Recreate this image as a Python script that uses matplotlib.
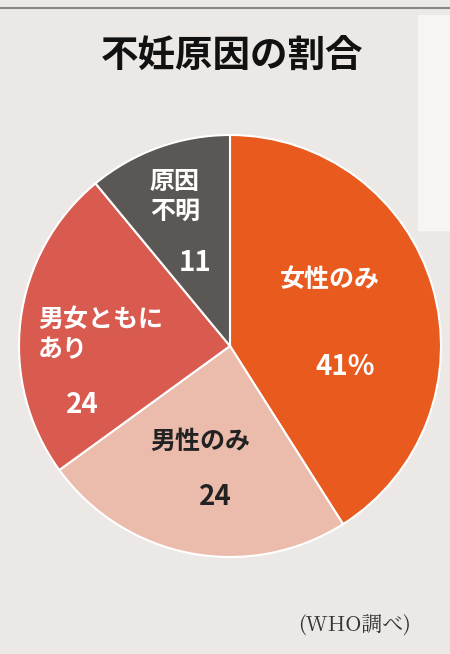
import matplotlib.pyplot as plt
from matplotlib.patches import Rectangle
plt.rcParams['font.family'] = ['Noto Sans CJK JP', 'DejaVu Sans']

labels = ['女性のみ', '男性のみ', '男女ともにあり', '原因不明']
values = [41, 24, 24, 11]
colors = ['#e85a1e', '#ebbcac', '#d95a4e', '#5b5755']

W, H = 450, 654
fig = plt.figure(figsize=(4.5, 6.54), dpi=100)
fig.patch.set_facecolor('#ebe8e6')
ax = fig.add_axes([0, 0, 1, 1])
ax.set_xlim(0, W); ax.set_ylim(0, H); ax.axis('off')
ax.set_aspect('equal')
ax.add_patch(Rectangle((418, H-230), 32, 215, color='#f6f5f4', zorder=0))
ax.plot([0, W], [H-8, H-8], color='#888888', lw=1.5)
ax.pie(values, colors=colors, startangle=90, counterclock=False,
       center=(230, H-346), radius=211,
       wedgeprops=dict(edgecolor='white', linewidth=1.5))
ax.set_xlim(0, W); ax.set_ylim(0, H)

def t(x, y, s, c='white', size=20, **kw):
    ax.text(x, H-y, s, color=c, fontsize=size, fontweight='bold', ha='center', va='center', **kw)

t(232, 55, '不妊原因の割合', c='#111111', size=27)
t(330, 280, '女性のみ', size=18)
t(345, 367, '41%', size=20)
t(200, 442, '男性のみ', c='#222222', size=18)
t(215, 497, '24', c='#222222', size=20)
ax.text(38, H-335, '男女ともに\nあり', color='white', fontsize=18, fontweight='bold',
        ha='left', va='center', linespacing=1.3)
t(82, 405, '24', size=20)
ax.text(150, H-197, '原因\n不明', color='white', fontsize=18, fontweight='bold',
        ha='left', va='center', linespacing=1.3)
t(195, 263, '11', size=20)
ax.text(355, H-625, '(WHO調べ)', color='#333333', fontsize=15, ha='center', va='center',
        family=['Noto Serif CJK JP', 'Noto Sans CJK JP', 'DejaVu Serif'])
fig.savefig('out.png', dpi=100, facecolor=fig.get_facecolor())
